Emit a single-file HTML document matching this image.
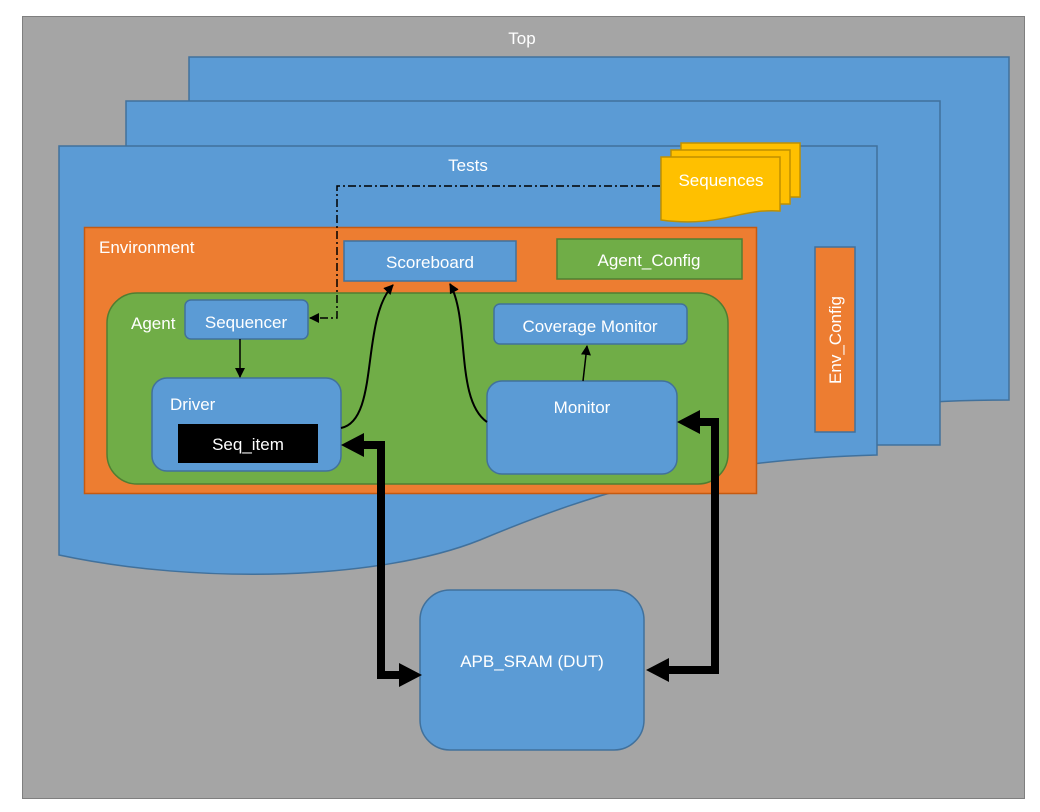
<!DOCTYPE html>
<html><head><style>body{margin:0;background:#fff}svg{display:block}text{font-family:"Liberation Sans",sans-serif;fill:#fff;font-size:17px}</style></head>
<body>
<svg width="1040" height="812" viewBox="0 0 1040 812" xmlns="http://www.w3.org/2000/svg">
<defs>
<marker id="a" markerWidth="10" markerHeight="10" refX="9" refY="5" orient="auto" markerUnits="userSpaceOnUse"><path d="M0,0 L10,5 L0,10 z" fill="#000"/></marker>
<marker id="b" markerWidth="12" markerHeight="14" refX="11" refY="7" orient="auto" markerUnits="userSpaceOnUse"><path d="M0,0 L12,7 L0,14 z" fill="#000"/></marker>
</defs>
<rect x="22.5" y="16.5" width="1002" height="782" fill="#a5a5a5" stroke="#7f7f7f"/>
<text x="522" y="44" text-anchor="middle">Top</text>
<path d="M189,57 H1009 V400 C900,400 850,410 800,420 L189,420 Z" fill="#5b9bd5" stroke="#41719c" stroke-width="1.5"/>
<path d="M126,101 H940 V445 L126,445 Z" fill="#5b9bd5" stroke="#41719c" stroke-width="1.5"/>
<path d="M59,146 H877 V455 C700,460 600,490 480,540 C380,580 200,585 59,555 Z" fill="#5b9bd5" stroke="#41719c" stroke-width="1.5"/>
<text x="468" y="171" text-anchor="middle">Tests</text>
<path d="M681,143 H800 V197 H681 Z" fill="#ffc000" stroke="#bf9000" stroke-width="1.5"/>
<path d="M671,150 H790 V204 H671 Z" fill="#ffc000" stroke="#bf9000" stroke-width="1.5"/>
<path d="M661,157 H780 V211 C740,208 720,228 661,220 Z" fill="#ffc000" stroke="#bf9000" stroke-width="1.5"/>
<text x="721" y="186" text-anchor="middle">Sequences</text>
<rect x="84.5" y="227.5" width="672" height="266" fill="#ed7d31" stroke="#c55a11" stroke-width="1.5"/>
<text x="99" y="253">Environment</text>
<rect x="344" y="241" width="172" height="40" fill="#5b9bd5" stroke="#41719c" stroke-width="1.5"/>
<text x="430" y="268" text-anchor="middle">Scoreboard</text>
<rect x="557" y="239" width="185" height="40" fill="#70ad47" stroke="#507e32" stroke-width="1.5"/>
<text x="649" y="266" text-anchor="middle">Agent_Config</text>
<rect x="815" y="247" width="40" height="185" fill="#ed7d31" stroke="#41719c" stroke-width="1.5"/>
<text transform="translate(841,340) rotate(-90)" text-anchor="middle">Env_Config</text>
<rect x="107" y="293" width="621" height="191" rx="30" fill="#70ad47" stroke="#507e32" stroke-width="1.5"/>
<text x="131" y="329">Agent</text>
<rect x="185" y="300" width="123" height="39" rx="6" fill="#5b9bd5" stroke="#41719c" stroke-width="1.5"/>
<text x="246" y="328" text-anchor="middle" font-size="16">Sequencer</text>
<rect x="494" y="304" width="193" height="40" rx="6" fill="#5b9bd5" stroke="#41719c" stroke-width="1.5"/>
<text x="590" y="332" text-anchor="middle" font-size="16">Coverage Monitor</text>
<rect x="152" y="378" width="189" height="93" rx="15" fill="#5b9bd5" stroke="#41719c" stroke-width="1.5"/>
<text x="170" y="410">Driver</text>
<rect x="178" y="424" width="140" height="39" fill="#000"/>
<text x="248" y="450" text-anchor="middle">Seq_item</text>
<rect x="487" y="381" width="190" height="93" rx="15" fill="#5b9bd5" stroke="#41719c" stroke-width="1.5"/>
<text x="582" y="413" text-anchor="middle">Monitor</text>
<rect x="420" y="590" width="224" height="160" rx="30" fill="#5b9bd5" stroke="#41719c" stroke-width="1.5"/>
<text x="532" y="667" text-anchor="middle">APB_SRAM (DUT)</text>
<path d="M660,186 H337 V318 H310" fill="none" stroke="#000" stroke-width="1.5" stroke-dasharray="8,3,2,3" marker-end="url(#a)"/>
<line x1="240" y1="339" x2="240" y2="377" stroke="#000" stroke-width="1.5" marker-end="url(#a)"/>
<line x1="583" y1="381" x2="587" y2="346" stroke="#000" stroke-width="1.5" marker-end="url(#a)"/>
<path d="M341,428 C380,420 360,320 393,285" fill="none" stroke="#000" stroke-width="2" marker-end="url(#a)"/>
<path d="M487,422 C455,400 470,320 450,284" fill="none" stroke="#000" stroke-width="2" marker-end="url(#a)"/>
<g fill="none" stroke="#000" stroke-width="8">
<path d="M404,675 H381 V445 H360"/>
<path d="M662,670 H715 V422 H696"/>
</g>
<g fill="#000">
<path d="M341,445 L364,433 L364,457 Z"/>
<path d="M422,675 L399,663 L399,687 Z"/>
<path d="M677,422 L700,410 L700,434 Z"/>
<path d="M646,670 L669,658 L669,682 Z"/>
</g>
</svg>
</body></html>
